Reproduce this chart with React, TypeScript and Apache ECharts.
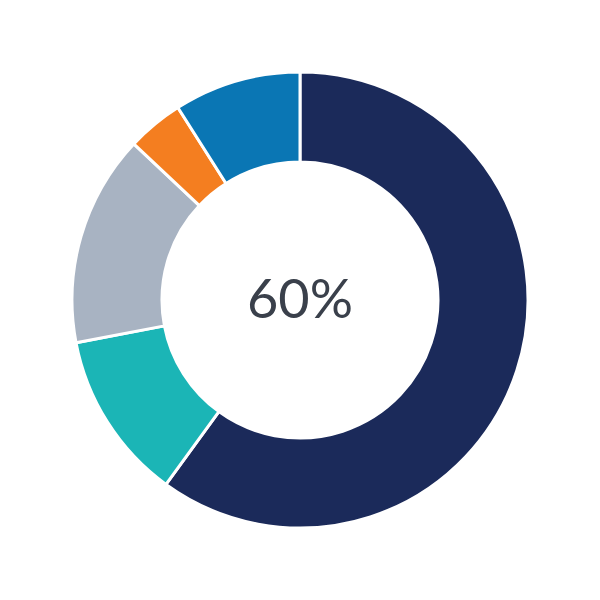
import { useEffect, useRef } from 'react';
import * as echarts from 'echarts';

const categories = ['A', 'B', 'C', 'D', 'E'];
const values = [60, 12, 15, 4, 9];
const colors = ['#1b2a5a', '#1bb5b6', '#a8b3c2', '#f47e20', '#0a76b4'];
const centerLabel = '60%';

export default function App() {
  const chartRef = useRef<HTMLDivElement>(null);

  useEffect(() => {
    if (!chartRef.current) return;
    const chart = echarts.init(chartRef.current, null, { renderer: 'svg' });

    chart.setOption({
      animation: false,
      graphic: [
        {
          type: 'text',
          x: 300,
          y: 297,
          style: {
            text: centerLabel,
            align: 'center',
            verticalAlign: 'middle',
            fill: '#3a404b',
            fontSize: 54,
            fontWeight: 400,
            fontFamily: 'Lato',
          },
          z: 10,
        },
      ],
      series: [
        {
          type: 'pie',
          center: [300, 300],
          radius: [138, 228],
          startAngle: 90,
          clockwise: true,
          label: { show: false },
          labelLine: { show: false },
          itemStyle: {
            borderColor: '#ffffff',
            borderWidth: 3,
          },
          data: categories.map((name, i) => ({
            name,
            value: values[i],
            itemStyle: { color: colors[i] },
          })),
        },
      ],
    });

    return () => chart.dispose();
  }, []);

  return (
    <div
      ref={chartRef}
      style={{ position: 'absolute', left: 0, top: 0, width: 600, height: 600 }}
    />
  );
}
